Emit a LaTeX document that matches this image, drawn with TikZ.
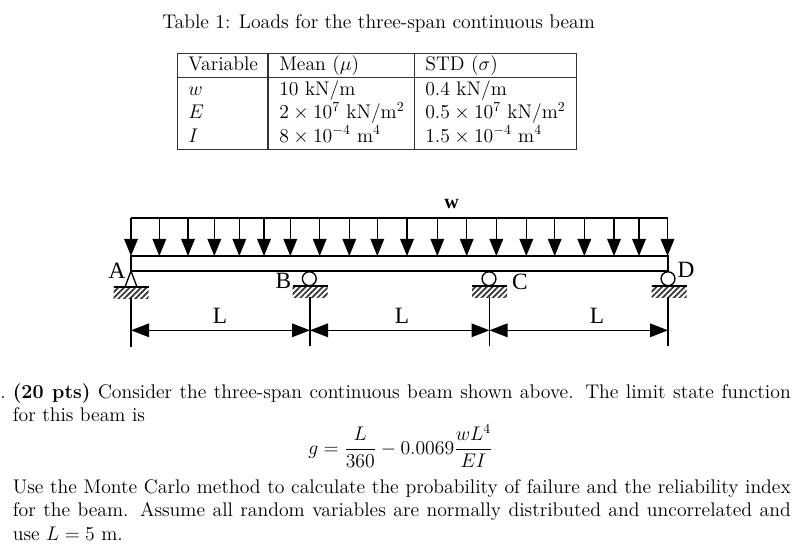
\RequirePackage{fix-cm}
\documentclass[tikz,border=0pt]{standalone}
\usepackage{fontspec}
\usetikzlibrary{patterns.meta,arrows.meta}
\newfontfamily\beamfont{Liberation Serif}
\newcommand{\bodytxt}{\fontsize{14.8}{17}\selectfont}
\newcommand{\fitline}[1]{\hbox to 583.5pt{#1}}
\tikzset{
  txt/.style={anchor=base west,inner sep=0pt,font=\bodytxt},
  beamlabel/.style={inner sep=0pt,font=\beamfont\fontsize{17.5}{19}\selectfont},
  rule/.style={line width=0.8pt,draw=black!80},
  thick line/.style={line width=1.2pt},
  thin line/.style={line width=1pt},
  load/.style={thin line,-{Triangle[length=12.8pt,width=10.2pt]}},
  dim/.style={thin line,{Triangle[length=13.5pt,width=10.2pt]}-{Triangle[length=13.5pt,width=10.2pt]}},
  ground/.style={pattern={Lines[angle=45,distance=3pt,line width=1.3pt]},pattern color=black!80},
  roller/.style={circle,draw,thin line,fill=white,minimum size=10.4pt,inner sep=0pt}
}
\begin{document}
\begin{tikzpicture}[x=0.75pt,y=-0.75pt]
\useasboundingbox (0,0) rectangle (809,553);
% caption
\node[txt] (cap) at (162,28) {Table 1: Loads for the three-span continuous beam};
% table
\coordinate (t1) at (177.3,53.3);
\coordinate (t2) at (576.7,149.3);
\coordinate (h1) at (177.3,77.3);
\coordinate (h2) at (576.7,77.3);
\coordinate (c1a) at (268,53.3);
\coordinate (c1b) at (268,149.3);
\coordinate (c2a) at (414.7,53.3);
\coordinate (c2b) at (414.7,149.3);
\draw[rule] (t1) rectangle (t2);
\draw[rule] (h1) -- (h2);
\draw[rule] (c1a) -- (c1b);
\draw[rule] (c2a) -- (c2b);
\node[txt] (a0) at (188,70) {Variable};
\node[txt] (b0) at (279,70) {Mean ($\mu$)};
\node[txt] (c0) at (425,70) {STD ($\sigma$)};
\node[txt] (a1) at (188,95) {$w$};
\node[txt] (b1) at (279,95) {10 kN/m};
\node[txt] (c1) at (425,95) {0.4 kN/m};
\node[txt] (a2) at (188,118.5) {$E$};
\node[txt] (b2) at (279,118.5) {$2\times10^{7}$ kN/m$^{2}$};
\node[txt] (c2) at (425,118.5) {$0.5\times10^{7}$ kN/m$^{2}$};
\node[txt] (a3) at (188,142) {$I$};
\node[txt] (b3) at (279,142) {$8\times10^{-4}$ m$^{4}$};
\node[txt] (c3) at (425,142) {$1.5\times10^{-4}$ m$^{4}$};
% load
\node[beamlabel,font=\beamfont\bfseries\fontsize{15}{18}\selectfont] (w) at (451.7,204) {w};
\coordinate (lt) at (131,217.7);
\coordinate (rt) at (668,217.7);
\draw[thick line] (lt) -- (rt);
\foreach \x in {131,159.3,188,214.3,239.3,264,290.3,319.7,349.3,377.3,407,437.3,466.7,496.3,526.3,554.7,584.3,614,639,667.5}{
  \coordinate (p) at (\x,217.7);
  \coordinate (q) at (\x,256);
  \draw[load] (p) -- (q);
}
% beam
\coordinate (b1c) at (131,256);
\coordinate (b2c) at (668,271);
\draw[thick line] (b1c) rectangle (b2c);
% ground blocks
\foreach \x/\yy in {113.7/287,292.5/286,472/286,651.5/286}{
  \coordinate (g1) at (\x,\yy);
  \coordinate (g2) at (\x+35,\yy+11);
  \coordinate (g3) at (\x+35,\yy);
  \fill[ground] (g1) rectangle (g2);
  \draw[thick line] (g1) -- (g3);
}
% support A
\coordinate (Aa) at (131,271);
\coordinate (Ab) at (125,287);
\coordinate (Ac) at (137,287);
\draw[thin line] (Ab) -- (Aa) -- (Ac);
% rollers
\node[roller] (rB) at (309.3,278.7) {};
\node[roller] (rC) at (489,278.7) {};
\node[roller] (rD) at (668,278.7) {};
% dimension verticals
\coordinate (vA1) at (131,298);
\coordinate (vA2) at (131,347);
\coordinate (vB1) at (310,296.6);
\coordinate (vB2) at (310,346);
\coordinate (vC1) at (489.5,296.6);
\coordinate (vC2) at (489.5,346);
\coordinate (vD1) at (668,296.6);
\coordinate (vD2) at (668,346);
\draw[thin line] (vA1) -- (vA2);
\draw[thin line] (vB1) -- (vB2);
\draw[thin line] (vC1) -- (vC2);
\draw[thin line] (vD1) -- (vD2);
\coordinate (dA) at (131,330.3);
\coordinate (dB) at (310,330.3);
\coordinate (dC) at (489.5,330.3);
\coordinate (dD) at (668,330.3);
\draw[dim] (dA) -- (dB);
\draw[dim] (dB) -- (dC);
\draw[dim] (dC) -- (dD);
% letters
\node[beamlabel] (LA) at (117,271) {A};
\node[beamlabel] (LB) at (283.5,281) {B};
\node[beamlabel] (LC) at (520,282) {C};
\node[beamlabel] (LD) at (686,270) {D};
\node[beamlabel] (L1) at (220,315.5) {L};
\node[beamlabel] (L2) at (402,315.5) {L};
\node[beamlabel] (L3) at (597,315.5) {L};
% problem text
\node[txt] (dot) at (0,398.5) {.};
\node[txt] (p1) at (12.5,398.5) {\fitline{\textbf{(20 pts)} Consider the three-span continuous beam shown above. The limit state function}};
\node[txt] (p2) at (12.5,421.7) {for this beam is};
\node[txt] (eq) at (308,454) {$\displaystyle g=\frac{L}{360}-0.0069\frac{wL^4}{EI}$};
\node[txt] (p3) at (12.5,493) {\fitline{Use the Monte Carlo method to calculate the probability of failure and the reliability index}};
\node[txt] (p4) at (12.5,516.7) {\fitline{for the beam. Assume all random variables are normally distributed and uncorrelated and}};
\node[txt] (p5) at (12.5,540) {use $L=5$ m.};
\end{tikzpicture}
\end{document}
